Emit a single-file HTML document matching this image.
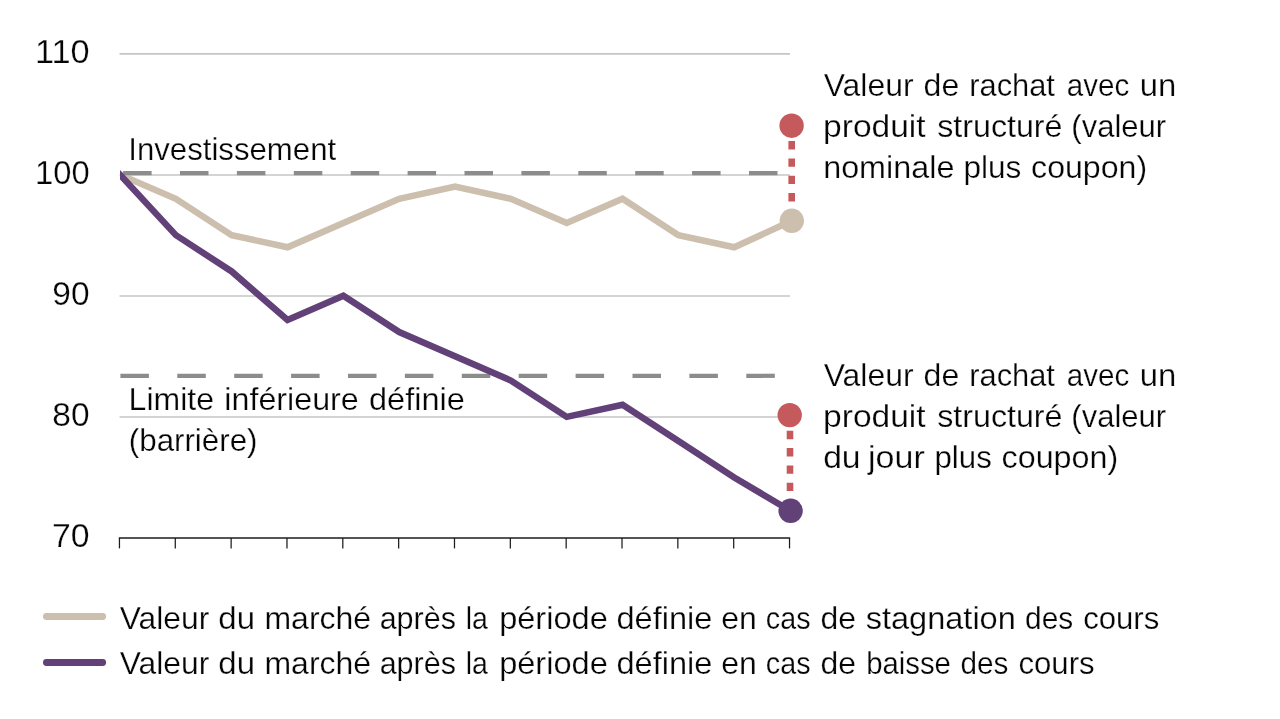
<!DOCTYPE html>
<html lang="fr"><head><meta charset="utf-8"><title>Graphique</title>
<style>
html,body{margin:0;padding:0;background:#fff;}
body{width:1280px;height:719px;overflow:hidden;}
svg{display:block;}
text{font-family:"Liberation Sans",sans-serif;font-size:30.5px;fill:#050505;white-space:pre;stroke:#fff;stroke-width:0.25px;}
</style></head><body>
<svg width="1280" height="719" viewBox="0 0 1280 719">
<rect width="1280" height="719" fill="#fff"/>
<g id="grid"><line x1="119.5" x2="790" y1="53.90" y2="53.90" stroke="#c6c6c6" stroke-width="1.6"/><line x1="119.5" x2="790" y1="174.95" y2="174.95" stroke="#c6c6c6" stroke-width="1.6"/><line x1="119.5" x2="790" y1="296.00" y2="296.00" stroke="#c6c6c6" stroke-width="1.6"/><line x1="119.5" x2="790" y1="417.05" y2="417.05" stroke="#c6c6c6" stroke-width="1.6"/></g>
<g id="axis"><line x1="118.85" x2="790.1" y1="538" y2="538" stroke="#1c1c1c" stroke-width="1.7"/><line x1="119.45" x2="119.45" y1="538" y2="548.4" stroke="#1c1c1c" stroke-width="1.25"/><line x1="175.29" x2="175.29" y1="538" y2="548.4" stroke="#1c1c1c" stroke-width="1.25"/><line x1="231.13" x2="231.13" y1="538" y2="548.4" stroke="#1c1c1c" stroke-width="1.25"/><line x1="286.97" x2="286.97" y1="538" y2="548.4" stroke="#1c1c1c" stroke-width="1.25"/><line x1="342.81" x2="342.81" y1="538" y2="548.4" stroke="#1c1c1c" stroke-width="1.25"/><line x1="398.65" x2="398.65" y1="538" y2="548.4" stroke="#1c1c1c" stroke-width="1.25"/><line x1="454.49" x2="454.49" y1="538" y2="548.4" stroke="#1c1c1c" stroke-width="1.25"/><line x1="510.33" x2="510.33" y1="538" y2="548.4" stroke="#1c1c1c" stroke-width="1.25"/><line x1="566.17" x2="566.17" y1="538" y2="548.4" stroke="#1c1c1c" stroke-width="1.25"/><line x1="622.01" x2="622.01" y1="538" y2="548.4" stroke="#1c1c1c" stroke-width="1.25"/><line x1="677.85" x2="677.85" y1="538" y2="548.4" stroke="#1c1c1c" stroke-width="1.25"/><line x1="733.69" x2="733.69" y1="538" y2="548.4" stroke="#1c1c1c" stroke-width="1.25"/><line x1="789.53" x2="789.53" y1="538" y2="548.4" stroke="#1c1c1c" stroke-width="1.25"/></g>
<clipPath id="plot"><rect x="120" y="40" width="700" height="520"/></clipPath>
<g clip-path="url(#plot)" fill="none" stroke-linejoin="miter">
<polyline points="114.00,172.22 120.00,174.80 175.84,198.78 231.68,235.12 287.52,247.24 343.36,223.01 399.20,198.78 455.04,186.67 510.88,198.78 566.72,223.01 622.56,198.78 678.40,235.12 734.24,247.24 791.80,220.80" stroke="#cdbfae" stroke-width="6.5"/>
<line x1="123.1" x2="790" y1="173.1" y2="173.1" stroke="#8c8c8c" stroke-width="4.2" stroke-dasharray="28.5 28.4"/>
<line x1="120.4" x2="790" y1="375.8" y2="375.8" stroke="#8c8c8c" stroke-width="4.2" stroke-dasharray="28.5 28.4"/>
<polyline points="114.00,168.32 120.00,174.80 175.84,235.12 231.68,271.47 287.52,319.93 343.36,295.70 399.20,332.04 455.04,356.27 510.88,380.50 566.72,416.85 622.56,404.73 678.40,441.08 734.24,477.43 790.40,510.80" stroke="#624179" stroke-width="6.5"/>
</g>
<line x1="791.7" x2="791.7" y1="141.1" y2="210" stroke="#c55a5c" stroke-width="6.6" stroke-dasharray="8.4 8.9"/>
<line x1="790.0" x2="790.0" y1="430.8" y2="500" stroke="#c55a5c" stroke-width="6.6" stroke-dasharray="8.4 8.9"/>
<circle cx="791.6" cy="125.7" r="12.2" fill="#c55a5c"/>
<circle cx="791.8" cy="220.8" r="12.2" fill="#cdbfae"/>
<circle cx="789.7" cy="415.1" r="12.2" fill="#c55a5c"/>
<circle cx="790.6" cy="510.8" r="12.2" fill="#624179"/>
<line x1="46.4" x2="102.7" y1="616.5" y2="616.5" stroke="#cdbfae" stroke-width="6.8" stroke-linecap="round"/>
<line x1="46.4" x2="102.7" y1="662.5" y2="662.5" stroke="#624179" stroke-width="6.8" stroke-linecap="round"/>
<g id="labels">
<text y="159.8" style="font-size:30.5px"><tspan x="128.30" textLength="207.84" lengthAdjust="spacingAndGlyphs">Investissement</tspan></text>
<text y="410.0" style="font-size:30.5px"><tspan x="128.64" textLength="85.31" lengthAdjust="spacingAndGlyphs">Limite</tspan> <tspan x="224.37" textLength="134.40" lengthAdjust="spacingAndGlyphs">inférieure</tspan> <tspan x="369.00" textLength="95.78" lengthAdjust="spacingAndGlyphs">définie</tspan></text>
<text y="450.8" style="font-size:30.5px"><tspan x="128.82" textLength="128.64" lengthAdjust="spacingAndGlyphs">(barrière)</tspan></text>
<text y="96.4" style="font-size:30.5px"><tspan x="823.70" textLength="89.92" lengthAdjust="spacingAndGlyphs">Valeur</tspan> <tspan x="923.62" textLength="35.64" lengthAdjust="spacingAndGlyphs">de</tspan> <tspan x="969.25" textLength="85.68" lengthAdjust="spacingAndGlyphs">rachat</tspan> <tspan x="1066.82" textLength="62.47" lengthAdjust="spacingAndGlyphs">avec</tspan> <tspan x="1139.73" textLength="36.51" lengthAdjust="spacingAndGlyphs">un</tspan></text>
<text y="137.1" style="font-size:30.5px"><tspan x="823.09" textLength="102.54" lengthAdjust="spacingAndGlyphs">produit</tspan> <tspan x="937.26" textLength="125.21" lengthAdjust="spacingAndGlyphs">structuré</tspan> <tspan x="1071.34" textLength="94.76" lengthAdjust="spacingAndGlyphs">(valeur</tspan></text>
<text y="386.4" style="font-size:30.5px"><tspan x="823.70" textLength="89.92" lengthAdjust="spacingAndGlyphs">Valeur</tspan> <tspan x="923.62" textLength="35.64" lengthAdjust="spacingAndGlyphs">de</tspan> <tspan x="969.25" textLength="85.68" lengthAdjust="spacingAndGlyphs">rachat</tspan> <tspan x="1066.82" textLength="62.47" lengthAdjust="spacingAndGlyphs">avec</tspan> <tspan x="1139.73" textLength="36.51" lengthAdjust="spacingAndGlyphs">un</tspan></text>
<text y="427.1" style="font-size:30.5px"><tspan x="823.09" textLength="102.54" lengthAdjust="spacingAndGlyphs">produit</tspan> <tspan x="937.26" textLength="125.21" lengthAdjust="spacingAndGlyphs">structuré</tspan> <tspan x="1071.34" textLength="94.76" lengthAdjust="spacingAndGlyphs">(valeur</tspan></text>
<text y="177.8" style="font-size:30.5px"><tspan x="823.16" textLength="131.21" lengthAdjust="spacingAndGlyphs">nominale</tspan> <tspan x="963.41" textLength="57.84" lengthAdjust="spacingAndGlyphs">plus</tspan> <tspan x="1031.12" textLength="115.99" lengthAdjust="spacingAndGlyphs">coupon)</tspan></text>
<text y="467.8" style="font-size:30.5px"><tspan x="823.15" textLength="37.48" lengthAdjust="spacingAndGlyphs">du</tspan> <tspan x="868.02" textLength="56.72" lengthAdjust="spacingAndGlyphs">jour</tspan> <tspan x="934.53" textLength="57.21" lengthAdjust="spacingAndGlyphs">plus</tspan> <tspan x="1001.61" textLength="116.60" lengthAdjust="spacingAndGlyphs">coupon)</tspan></text>
<text y="628.5" style="font-size:30.5px"><tspan x="119.70" textLength="89.61" lengthAdjust="spacingAndGlyphs">Valeur</tspan> <tspan x="218.38" textLength="36.70" lengthAdjust="spacingAndGlyphs">du</tspan> <tspan x="264.48" textLength="106.68" lengthAdjust="spacingAndGlyphs">marché</tspan> <tspan x="379.68" textLength="76.23" lengthAdjust="spacingAndGlyphs">après</tspan> <tspan x="465.79" textLength="22.20" lengthAdjust="spacingAndGlyphs">la</tspan> <tspan x="499.15" textLength="108.63" lengthAdjust="spacingAndGlyphs">période</tspan> <tspan x="616.50" textLength="95.88" lengthAdjust="spacingAndGlyphs">définie</tspan> <tspan x="721.22" textLength="35.58" lengthAdjust="spacingAndGlyphs">en</tspan> <tspan x="765.85" textLength="44.71" lengthAdjust="spacingAndGlyphs">cas</tspan> <tspan x="820.42" textLength="35.53" lengthAdjust="spacingAndGlyphs">de</tspan> <tspan x="865.65" textLength="150.18" lengthAdjust="spacingAndGlyphs">stagnation</tspan> <tspan x="1025.11" textLength="48.09" lengthAdjust="spacingAndGlyphs">des</tspan> <tspan x="1083.15" textLength="76.18" lengthAdjust="spacingAndGlyphs">cours</tspan></text>
<text y="674.4" style="font-size:30.5px"><tspan x="119.70" textLength="89.61" lengthAdjust="spacingAndGlyphs">Valeur</tspan> <tspan x="218.38" textLength="36.70" lengthAdjust="spacingAndGlyphs">du</tspan> <tspan x="264.48" textLength="106.68" lengthAdjust="spacingAndGlyphs">marché</tspan> <tspan x="379.68" textLength="76.23" lengthAdjust="spacingAndGlyphs">après</tspan> <tspan x="465.79" textLength="22.20" lengthAdjust="spacingAndGlyphs">la</tspan> <tspan x="499.15" textLength="108.63" lengthAdjust="spacingAndGlyphs">période</tspan> <tspan x="616.50" textLength="95.88" lengthAdjust="spacingAndGlyphs">définie</tspan> <tspan x="721.22" textLength="35.58" lengthAdjust="spacingAndGlyphs">en</tspan> <tspan x="765.85" textLength="44.71" lengthAdjust="spacingAndGlyphs">cas</tspan> <tspan x="820.42" textLength="35.53" lengthAdjust="spacingAndGlyphs">de</tspan> <tspan x="866.14" textLength="84.72" lengthAdjust="spacingAndGlyphs">baisse</tspan> <tspan x="960.41" textLength="47.88" lengthAdjust="spacingAndGlyphs">des</tspan> <tspan x="1018.45" textLength="76.18" lengthAdjust="spacingAndGlyphs">cours</tspan></text>
<text y="63.1" style="font-size:32.6px"><tspan x="34.90" textLength="54.75" lengthAdjust="spacingAndGlyphs">110</tspan></text>
<text y="184.1" style="font-size:32.6px"><tspan x="35.01" textLength="54.57" lengthAdjust="spacingAndGlyphs">100</tspan></text>
<text y="305.2" style="font-size:32.6px"><tspan x="52.36" textLength="37.25" lengthAdjust="spacingAndGlyphs">90</tspan></text>
<text y="426.4" style="font-size:32.6px"><tspan x="52.36" textLength="37.25" lengthAdjust="spacingAndGlyphs">80</tspan></text>
<text y="547.2" style="font-size:32.6px"><tspan x="52.01" textLength="37.61" lengthAdjust="spacingAndGlyphs">70</tspan></text>
</g>
</svg>
</body></html>
